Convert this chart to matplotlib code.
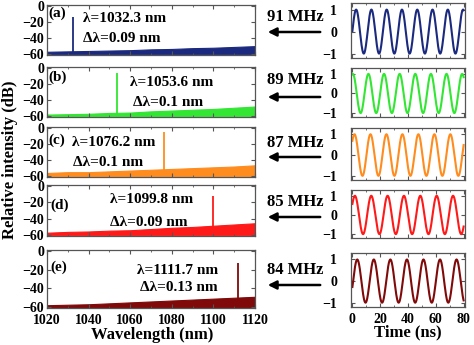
import numpy as np
import matplotlib
matplotlib.use("Agg")
import matplotlib.pyplot as plt
from matplotlib.ticker import MultipleLocator

plt.rcParams["font.family"] = ["Liberation Serif", "DejaVu Serif"]
plt.rcParams["font.weight"] = "bold"

W, H = 474, 345

# spectra (left column)
labels = ["(a)", "(b)", "(c)", "(d)", "(e)"]
colors = ["#1b2a7e", "#33e633", "#ff8c1e", "#ff1a1a", "#800a0a"]
peak_wl = [1032.3, 1053.6, 1076.2, 1099.8, 1111.7]
peak_db = [-14, -7, -5, -12, -13]
peak_txt = ["λ=1032.3 nm", "λ=1053.6 nm", "λ=1076.2 nm", "λ=1099.8 nm", "λ=1111.7 nm"]
width_txt = ["Δλ=0.09 nm", "Δλ=0.1 nm", "Δλ=0.1 nm", "Δλ=0.09 nm", "Δλ=0.13 nm"]
env_wl = [1020, 1030, 1040, 1050, 1060, 1070, 1080, 1090, 1100, 1110, 1120]
floor_lo = [-60, -60, -60, -60, -60, -60, -60, -60, -60, -60, -60]
floor_hi = [
    [-57, -56.5, -56, -55.5, -55, -54, -53.5, -52.5, -52, -51, -50],
    [-58, -57.5, -57, -56, -55.5, -54, -53, -52, -51, -49.5, -48],
    [-56, -55, -55, -54, -53, -52, -51, -50, -49, -48, -46.5],
    [-57, -56, -55.5, -54.5, -54, -52.5, -51, -50, -48.5, -47, -45.5],
    [-58, -57.5, -57, -56, -55, -54, -53, -52, -51, -50, -49],
]

# oscilloscope traces (right column)
freq_mhz = [91, 89, 87, 85, 84]
first_peak_ns = [2.7, 0.3, 1.5, 1.8, 3.5]

# layout in pixels (top, bottom)
left_rows = [(5, 55), (67, 117), (127, 177), (185, 236), (250, 308)]
right_rows = [(3, 58), (68, 117), (128, 180), (190, 238), (253, 307)]
txt_pos = [
    ((0.005, 0.84), (0.173, 0.74), (0.173, 0.34)),
    ((0.005, 0.80), (0.40, 0.70), (0.413, 0.30)),
    ((0.005, 0.74), (0.12, 0.68), (0.125, 0.28)),
    ((0.015, 0.61), (0.303, 0.71), (0.303, 0.255)),
    ((0.015, 0.71), (0.433, 0.655), (0.447, 0.345)),
]
freq_y = [17, 80, 143, 202, 270]
arrow_y = [32, 97, 157, 217, 285]


def box(x0, y0, x1, y1):
    return [x0 / W, 1 - y1 / H, (x1 - x0) / W, (y1 - y0) / H]


def style(ax):
    for s in ax.spines.values():
        s.set_color("#555555")
        s.set_linewidth(0.9)
    ax.tick_params(which="both", direction="in", top=True, right=True,
                   color="#555555", labelsize=10)
    ax.tick_params(which="major", length=3)
    ax.tick_params(which="minor", length=1.5)
    for lb in ax.get_xticklabels() + ax.get_yticklabels():
        lb.set_fontweight("bold")


fig = plt.figure(figsize=(W / 100, H / 100), dpi=100)

for i in range(5):
    top, bot = left_rows[i]
    ax = fig.add_axes(box(47, top, 255, bot))
    ax.fill_between(env_wl, floor_lo, floor_hi[i], color=colors[i], lw=0.8)
    ax.vlines(peak_wl[i], -58, peak_db[i], color=colors[i], lw=1.3)
    ax.set_xlim(1020, 1120)
    ax.set_ylim(-61, 1)
    ax.set_yticks([0, -20, -40, -60])
    ax.xaxis.set_major_locator(MultipleLocator(20))
    ax.xaxis.set_minor_locator(MultipleLocator(10))
    style(ax)
    ax.tick_params(axis="y", pad=2)
    ax.tick_params(axis="x", pad=4)
    if i < 4:
        ax.set_xticklabels([])
    (lx, ly), (px, py), (wx, wy) = txt_pos[i]
    ax.text(lx, ly, labels[i], transform=ax.transAxes, fontsize=11,
            fontweight="bold", va="center", ha="left")
    ax.text(px, py, peak_txt[i], transform=ax.transAxes, fontsize=11,
            fontweight="bold", va="center", ha="left")
    ax.text(wx, wy, width_txt[i], transform=ax.transAxes, fontsize=11,
            fontweight="bold", va="center", ha="left")

t = np.linspace(0, 80, 800)
for i in range(5):
    top, bot = right_rows[i]
    ax = fig.add_axes(box(351, top, 465, bot))
    f = freq_mhz[i] / 1000.0
    ax.plot(t, np.cos(2 * np.pi * f * (t - first_peak_ns[i])), color=colors[i], lw=1.5)
    ax.set_xlim(-1, 81)
    ax.set_ylim(-1.2, 1.3)
    ax.set_yticks([-1, 0, 1])
    ax.xaxis.set_major_locator(MultipleLocator(20))
    ax.xaxis.set_minor_locator(MultipleLocator(10))
    style(ax)
    ax.tick_params(axis="y", pad=10)
    ax.tick_params(axis="x", pad=4)
    if i < 4:
        ax.set_xticklabels([])
    else:
        ax.set_xlabel("Time (ns)", fontsize=12, fontweight="bold", labelpad=-1)
    fig.text(295 / W, 1 - freq_y[i] / H, f"{freq_mhz[i]} MHz", fontsize=12,
             fontweight="bold", ha="center", va="center")
    fig.add_artist(matplotlib.patches.FancyArrowPatch(
        (323 / W, 1 - arrow_y[i] / H), (265 / W, 1 - arrow_y[i] / H),
        transform=fig.transFigure, arrowstyle="-|>,head_length=5,head_width=2.5",
        mutation_scale=1, color="black", lw=1.8))

fig.text(152 / W, 1 - 335 / H, "Wavelength (nm)", fontsize=12,
         fontweight="bold", ha="center", va="center")
fig.text(10 / W, 1 - 160 / H, "Relative intensity (dB)", fontsize=12,
         fontweight="bold", ha="center", va="center", rotation=90)

fig.savefig("out.png", dpi=100)
